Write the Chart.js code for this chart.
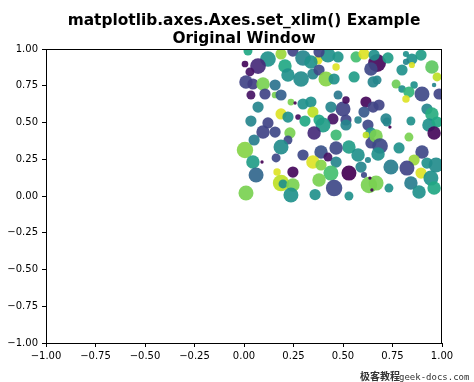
<!DOCTYPE html>
<html>
<head>
<meta charset="utf-8">
<script src="https://cdn.jsdelivr.net/npm/chart.js@4/dist/chart.umd.min.js"></script>
<style>
  html, body { margin: 0; padding: 0; background: #fff; }
  #wrap { width: 474px; height: 382px; }
</style>
</head>
<body>
<div id="wrap"><canvas id="chart" width="474" height="382"></canvas></div>
<script>
// scatter data (x, y in data units, s = marker area, c = colour value 0..1)
const xs = [
  0.020, 0.121, 0.187, 0.247, 0.298, 0.005, 0.071, 0.030, 0.207, 0.222,
  0.288, 0.010, 0.045, 0.096, 0.157, 0.035, 0.106, 0.157, 0.187, 0.071,
  0.237, 0.258, 0.298, 0.035, 0.187, 0.222, 0.273, 0.308, 0.374, 0.338,
  0.424, 0.475, 0.379, 0.348, 0.465, 0.379, 0.414, 0.455, 0.566, 0.606,
  0.672, 0.556, 0.641, 0.652, 0.338, 0.348, 0.379, 0.475, 0.500, 0.439,
  0.515, 0.616, 0.652, 0.606, 0.576, 0.449, 0.515, 0.657, 0.818, 0.848,
  0.894, 0.848, 0.818, 0.798, 0.949, 0.975, 0.960, 0.985, 0.768, 0.798,
  0.859, 0.833, 0.899, 0.818, 0.727, 0.672, 0.682, 0.717, 0.843, 0.924,
  0.949, 0.121, 0.096, 0.157, 0.232, 0.222, 0.187, 0.005, 0.045, 0.091,
  0.162, 0.298, 0.061, 0.167, 0.247, 0.187, 0.197, 0.247, 0.237, 0.010,
  0.359, 0.051, 0.399, 0.354, 0.515, 0.626, 0.641, 0.616, 0.641, 0.465,
  0.530, 0.465, 0.389, 0.465, 0.424, 0.348, 0.389, 0.439, 0.530, 0.591,
  0.606, 0.626, 0.379, 0.455, 0.631, 0.530, 0.576, 0.667, 0.687, 0.677,
  0.722, 0.934, 0.975, 0.960, 0.833, 0.783, 0.899, 0.859, 0.742, 0.823,
  0.924, 0.970, 0.894, 0.944, 0.667, 0.843, 0.732, 0.884, 0.960, 0.737,
  0.636, 0.646
];
const ys = [
  0.986, 0.932, 0.966, 0.986, 0.939, 0.898, 0.884, 0.844, 0.884, 0.823,
  0.796, 0.776, 0.762, 0.762, 0.755, 0.687, 0.694, 0.687, 0.687, 0.605,
  0.639, 0.633, 0.626, 0.510, 0.558, 0.537, 0.537, 0.510, 0.925, 0.912,
  0.959, 0.946, 0.980, 0.830, 0.878, 0.857, 0.796, 0.796, 0.946, 0.966,
  0.905, 0.810, 0.864, 0.776, 0.639, 0.571, 0.517, 0.687, 0.592, 0.605,
  0.653, 0.639, 0.605, 0.571, 0.517, 0.524, 0.517, 0.959, 0.966, 0.932,
  0.959, 0.891, 0.912, 0.857, 0.878, 0.810, 0.755, 0.694, 0.762, 0.728,
  0.755, 0.707, 0.694, 0.660, 0.939, 0.789, 0.619, 0.524, 0.510, 0.592,
  0.558, 0.497, 0.435, 0.435, 0.429, 0.381, 0.333, 0.313, 0.231, 0.231,
  0.259, 0.279, 0.143, 0.163, 0.163, 0.088, 0.082, 0.075, 0.007, 0.020,
  0.010, 0.381, 0.483, 0.429, 0.483, 0.483, 0.429, 0.415, 0.361, 0.415,
  0.333, 0.327, 0.299, 0.231, 0.265, 0.231, 0.211, 0.156, 0.156, 0.197,
  0.143, 0.245, 0.109, 0.054, 0.075, 0.000, 0.279, 0.408, 0.340, 0.286,
  0.503, 0.483, 0.503, 0.429, 0.401, 0.327, 0.299, 0.245, 0.197, 0.190,
  0.224, 0.211, 0.156, 0.122, 0.088, 0.088, 0.054, 0.027, 0.054, 0.469,
  0.122, 0.041
];
const sizes = [
  64, 196, 100, 100, 196, 36, 196, 64, 144, 144,
  196, 144, 100, 144, 100, 64, 100, 36, 100, 100,
  36, 9, 100, 100, 100, 100, 25, 100, 64, 144,
  180, 100, 100, 100, 44, 100, 180, 100, 100, 100,
  256, 100, 144, 100, 100, 100, 100, 64, 180, 100,
  44, 100, 100, 100, 44, 100, 100, 100, 30, 100,
  100, 30, 30, 100, 144, 64, 16, 100, 64, 44,
  44, 100, 180, 44, 100, 64, 100, 100, 64, 100,
  144, 100, 144, 100, 100, 64, 180, 216, 144, 9,
  64, 100, 180, 44, 100, 216, 64, 144, 180, 180,
  100, 100, 180, 144, 100, 100, 100, 36, 100, 100,
  144, 144, 144, 100, 64, 144, 100, 180, 180, 100,
  30, 30, 144, 216, 216, 64, 144, 144, 196, 144,
  64, 144, 100, 144, 64, 100, 144, 100, 180, 180,
  100, 180, 100, 180, 180, 144, 64, 144, 144, 9,
  9, 9
];
const colorVals = [
  0.60, 0.50, 0.85, 0.20, 0.45, 0.02, 0.12, 0.05, 0.60, 0.50,
  0.48, 0.20, 0.18, 0.80, 0.38, 0.05, 0.20, 0.80, 0.30, 0.45,
  0.80, 0.00, 0.50, 0.45, 0.95, 0.50, 0.03, 0.60, 0.95, 0.50,
  0.50, 0.52, 0.20, 0.45, 0.95, 0.22, 0.82, 0.50, 0.70, 0.95,
  0.02, 0.55, 0.22, 0.45, 0.50, 0.90, 0.60, 0.40, 0.20, 0.45,
  0.03, 0.02, 0.20, 0.28, 0.45, 0.05, 0.20, 0.50, 0.50, 0.50,
  0.55, 0.95, 0.45, 0.50, 0.75, 0.90, 0.45, 0.20, 0.78, 0.50,
  0.50, 0.65, 0.22, 0.95, 0.55, 0.45, 0.20, 0.45, 0.50, 0.45,
  0.62, 0.20, 0.20, 0.22, 0.80, 0.22, 0.48, 0.82, 0.55, 0.00,
  0.22, 0.22, 0.33, 0.95, 0.02, 0.90, 0.50, 0.80, 0.50, 0.80,
  0.50, 0.42, 0.55, 0.12, 0.45, 0.22, 0.50, 0.90, 0.20, 0.68,
  0.55, 0.22, 0.25, 0.45, 0.05, 0.95, 0.82, 0.70, 0.00, 0.45,
  0.22, 0.45, 0.80, 0.22, 0.80, 0.50, 0.50, 0.80, 0.22, 0.50,
  0.45, 0.50, 0.60, 0.02, 0.80, 0.50, 0.22, 0.85, 0.42, 0.20,
  0.50, 0.48, 0.95, 0.50, 0.80, 0.42, 0.50, 0.50, 0.60, 0.00,
  0.00, 0.00
];

const titleLines = ['matplotlib.axes.Axes.set_xlim() Example', 'Original Window'];

// viridis lookup
const viridis = ['#440154', '#482475', '#414487', '#355f8d', '#2a788e', '#21918c',
                 '#22a884', '#44bf70', '#7ad151', '#bddf26', '#fde725'];
function hex(h) { return [1, 3, 5].map(i => parseInt(h.slice(i, i + 2), 16)); }
function cmap(v, alpha) {
  const t = Math.max(0, Math.min(1, v)) * (viridis.length - 1);
  const i = Math.min(Math.floor(t), viridis.length - 2);
  const f = t - i;
  const a = hex(viridis[i]), b = hex(viridis[i + 1]);
  const c = a.map((x, k) => Math.round(x + (b[k] - x) * f));
  return `rgba(${c[0]},${c[1]},${c[2]},${alpha})`;
}

const fmt = (v) => v.toFixed(2).replace('-', '\u2212');

const frame = {
  id: 'frame',
  afterDraw(chart) {
    const { ctx, chartArea: a } = chart;
    ctx.save();
    ctx.strokeStyle = '#000';
    ctx.lineWidth = 1;
    ctx.strokeRect(Math.round(a.left) + 0.5, Math.round(a.top) + 0.5,
                   Math.round(a.right - a.left) - 1, Math.round(a.bottom - a.top));
    // title
    ctx.fillStyle = '#000';
    ctx.textAlign = 'center';
    ctx.textBaseline = 'alphabetic';
    ctx.font = 'bold 15.4px "DejaVu Sans"';
    ctx.fillText(titleLines[0], (a.left + a.right) / 2, 25);
    ctx.fillText(titleLines[1], (a.left + a.right) / 2, 43);
    // watermark
    ctx.textAlign = 'left';
    ctx.font = 'bold 10px "Noto Sans CJK SC"';
    ctx.fillStyle = '#333';
    ctx.fillText('极客教程', 360, 380);
    ctx.font = '9px "DejaVu Sans Mono"';
    ctx.fillText('geek-docs.com', 399, 380);
    ctx.restore();
  }
};

const axisCommon = {
  type: 'linear',
  min: -1,
  max: 1,
  grid: { display: true, drawOnChartArea: false, drawTicks: true, tickLength: 4, tickColor: '#000', tickWidth: 1 },
  border: { display: true, color: '#000', width: 1 },
  ticks: {
    stepSize: 0.25,
    color: '#000',
    font: { family: 'DejaVu Sans', size: 10 },
    callback: (v) => fmt(v),
    autoSkip: false,
    maxRotation: 0
  }
};

new Chart(document.getElementById('chart').getContext('2d'), {
  type: 'scatter',
  data: {
    datasets: [{
      data: xs.map((x, i) => ({ x, y: ys[i] })),
      pointRadius: (c) => Math.sqrt(sizes[c.dataIndex]) / 2 * 1.12,
      pointHoverRadius: (c) => Math.sqrt(sizes[c.dataIndex]) / 2 * 1.12,
      backgroundColor: (c) => cmap(colorVals[c.dataIndex], 0.92),
      borderWidth: 0,
      clip: 0
    }]
  },
  options: {
    responsive: false,
    animation: false,
    layout: { padding: { top: 49, right: 32, bottom: 0, left: 0 } },
    plugins: { legend: { display: false }, tooltip: { enabled: false } },
    scales: {
      x: { ...axisCommon, ticks: { ...axisCommon.ticks, padding: 3 },
           afterFit: (s) => { s.height = 39; } },
      y: { ...axisCommon, ticks: { ...axisCommon.ticks, padding: 4 },
           afterFit: (s) => { s.width = 46; } }
    }
  },
  plugins: [frame]
});
</script>
</body>
</html>
